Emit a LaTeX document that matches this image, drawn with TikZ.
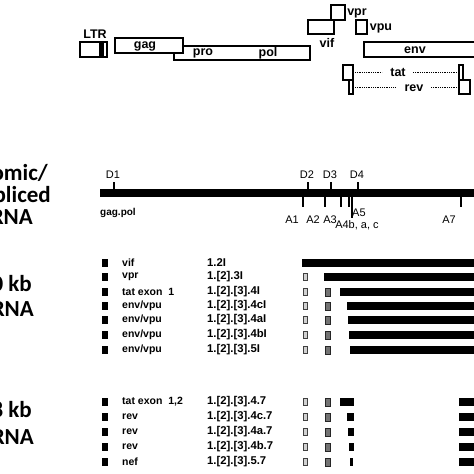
\documentclass[tikz,border=0pt]{standalone}
\usepackage{fontspec}
\setmainfont{Liberation Sans}
\newfontfamily\bigfont{Carlito}
\begin{document}
\begin{tikzpicture}[x=1pt,y=-1pt,
  gbox/.style={draw=black, line width=1.4pt, fill=white},
  glab/.style={font=\bfseries\fontsize{12.5}{12.5}\selectfont, inner sep=0pt},
  site/.style={font=\fontsize{11}{11}\selectfont, inner sep=0pt},
  tick/.style={line width=1.3pt},
  big/.style={font=\bigfont\bfseries\fontsize{23}{23}\selectfont, inner sep=0pt, anchor=base east},
  gname/.style={font=\bfseries\fontsize{10.5}{10.5}\selectfont, inner sep=0pt, anchor=west},
  gcode/.style={font=\bfseries\fontsize{11.3}{11.3}\selectfont, inner sep=0pt, anchor=west},
  bullet/.style={fill=black, minimum width=6pt, minimum height=8pt, inner sep=0pt},
  exA/.style={draw=black!75, fill=black!18, line width=0.7pt, minimum width=4pt, minimum height=7pt, inner sep=0pt},
  exB/.style={draw=black!85, fill=black!55, line width=0.7pt, minimum width=5pt, minimum height=8pt, inner sep=0pt},
  dots/.style={line width=0.9pt, dash pattern=on 0.9pt off 0.9pt},
]
\useasboundingbox (0,0) rectangle (474,474);
\clip (0,0) rectangle (474,474);
\fill[white] (0,0) rectangle (474,474);

% ---------- genome map ----------
\draw[gbox] (80,42) rectangle (107,57);
\fill[black] (99,42) rectangle (104,57);
\node[glab] (ltr) at (95,34) {LTR};
\draw[gbox] (174,46) rectangle (310,60);
\draw[gbox] (115,38) rectangle (183,53);
\node[glab] (gag) at (145,46) {gag};
\node[glab] (pro) at (203,53) {pro};
\node[glab] (pol) at (268,53) {pol};
\draw[gbox] (331,5) rectangle (345,20);
\draw[gbox] (308,20) rectangle (334,34);
\node[glab] (vpr) at (357,13) {vpr};
\node[glab] (vif) at (327,43) {vif};
\draw[gbox] (356,20) rectangle (367,34);
\node[glab] (vpu) at (381,28) {vpu};
\draw[gbox] (364,42) rectangle (485,57);
\node[glab] (env) at (415,50) {env};
% tat / rev
\draw[gbox] (343,65) rectangle (353,80);
\draw[gbox] (349,80) rectangle (353,94);
\draw[gbox] (459,65) rectangle (463,81);
\draw[gbox] (459,80) rectangle (470,94);
\node[glab] (tat) at (398,72) {tat};
\node[glab] (rev) at (414,88) {rev};
\coordinate (t1) at (355,72.5); \coordinate (t2) at (457,72.5);
\coordinate (r1) at (355,87.5); \coordinate (r2) at (457,87.5);
\draw[dots] (t1) -- (382,72.5);
\draw[dots] (413,72.5) -- (t2);
\draw[dots] (r1) -- (396,87.5);
\draw[dots] (431,87.5) -- (r2);

% ---------- genomic RNA ----------
\node[big] (g1) at (48,180) {Genomic/};
\node[big] (g2) at (51,202) {Unspliced};
\node[big] (g3) at (33,224) {RNA};
\fill[black] (100,189) rectangle (485,197);
\foreach \x/\n in {114/D1,308/D2,331/D3,358/D4}{
  \draw[tick] (\x,182) -- (\x,189);
  \node[site] (\n) at (\x-1,175) {\n};
}
\foreach \x in {303,325,341,349,461}{
  \draw[tick] (\x,197) -- (\x,207);
}
\draw[tick] (352,197) -- (352,218);
\node[site] (A1) at (292,220) {A1};
\node[site] (A2) at (313,220) {A2};
\node[site] (A3) at (330,220) {A3};
\node[site, anchor=west] (A5) at (352,213) {A5};
\node[site] (A4) at (357,225) {A4b, a, c};
\node[site] (A7) at (449,220) {A7};
\node[font=\bfseries\fontsize{10}{10}\selectfont, inner sep=0pt, anchor=west] (gp) at (100,213) {gag.pol};

% ---------- 4.0 kb RNA ----------
\node[big] (k1) at (32,291) {4.0 kb};
\node[big] (k2) at (34,316) {RNA};
\foreach \y/\g/\c [count=\i] in {263/vif/1.2I, 277/vpr/1.[2].3I, 292/tat exon~ 1/1.[2].[3].4I,
   306/env\slash vpu/1.[2].[3].4cI, 320/env\slash vpu/1.[2].[3].4aI,
   335/env\slash vpu/1.[2].[3].4bI, 350/env\slash vpu/1.[2].[3].5I}{
  \node[bullet] (b\i) at (105,\y) {};
  \node[gname] (n\i) at (122,\y) {\g};
  \node[gcode] (c\i) at (207,\y) {\c};
}
\fill[black] (302,258.5) rectangle (485,267);
\foreach \y/\s in {277/324,292/340,306/347,320/348,335/349,350/350}{
  \node[exA] at (305,\y) {};
  \fill[black] (\s,\y-4.3) rectangle (485,\y+4.3);
}
\foreach \y in {292,306,320,335,350}{
  \node[exB] at (327.5,\y) {};
}

% ---------- 1.8 kb RNA ----------
\node[big] (m1) at (32,417) {1.8 kb};
\node[big] (m2) at (34,444) {RNA};
\foreach \y/\g/\c/\s/\e [count=\i] in {402/tat exon~ 1{,}2/1.[2].[3].4.7/340/354,
   417/rev/1.[2].[3].4c.7/347/354, 432/rev/1.[2].[3].4a.7/348/354,
   447/rev/1.[2].[3].4b.7/349/354, 462/nef/1.[2].[3].5.7/350/353}{
  \node[bullet] (s\i) at (105,\y) {};
  \node[gname] (p\i) at (122,\y) {\g};
  \node[gcode] (q\i) at (207,\y) {\c};
  \node[exA] at (305,\y) {};
  \node[exB] at (327.5,\y) {};
  \fill[black] (\s,\y-4) rectangle (\e,\y+4);
  \fill[black] (459,\y-4) rectangle (485,\y+4);
}
\end{tikzpicture}
\end{document}
